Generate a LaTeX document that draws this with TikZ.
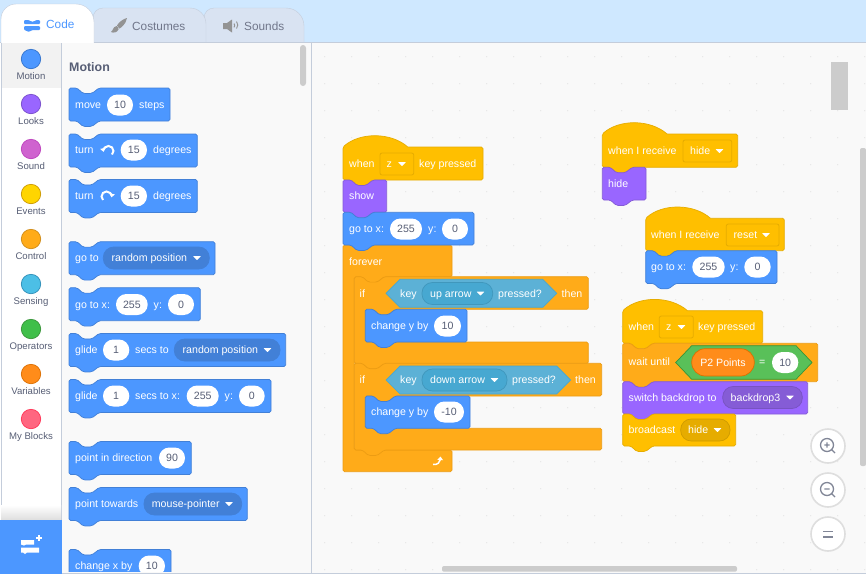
\documentclass[tikz,border=0pt]{standalone}
\usepackage{fontspec}
\setmainfont{Liberation Sans}
\usetikzlibrary{arrows.meta}

\definecolor{motion}{HTML}{4C97FF}   \definecolor{motionl}{HTML}{4280D7}
\definecolor{looks}{HTML}{9966FF}    \definecolor{looksl}{HTML}{855CD6}
\definecolor{events}{HTML}{FFBF00}   \definecolor{eventsl}{HTML}{E6AC00}
\definecolor{control}{HTML}{FFAB19}  \definecolor{controll}{HTML}{EC9C13}
\definecolor{sensing}{HTML}{5CB1D6}  \definecolor{sensingl}{HTML}{47A8D1}
\definecolor{operators}{HTML}{59C059}\definecolor{operatorsl}{HTML}{389438}
\definecolor{variables}{HTML}{FF8C1A}\definecolor{variablesl}{HTML}{DB6E00}
\definecolor{inktext}{HTML}{575E75}
\definecolor{tabfill}{HTML}{D9E3F2}
\definecolor{edgeline}{HTML}{C4CDDB}
\definecolor{panelbg}{HTML}{F9F9F9}

\tikzset{
    motionblock/.style = {fill=motion, draw=motionl, line width=0.7pt},
    looksblock/.style = {fill=looks, draw=looksl, line width=0.7pt},
    eventsblock/.style = {fill=events, draw=eventsl, line width=0.7pt},
    controlblock/.style = {fill=control, draw=controll, line width=0.7pt},
    lbl/.style = {anchor=base west, inner sep=0pt, text=white, font=\fontsize{10.6}{12}\selectfont},
    pilltext/.style = {anchor=base, inner sep=0pt, text=inktext, font=\fontsize{10.6}{12}\selectfont},
    catlabel/.style = {anchor=base, inner sep=0pt, text=inktext, font=\fontsize{9.6}{11}\selectfont},
    tabtext/.style = {anchor=base west, inner sep=0pt, font=\fontsize{11.8}{13}\selectfont},
    zoombutton/.style = {fill=white, draw=black!13, line width=1.6pt},
    zoomglyph/.style = {draw=inktext!75, line width=1.3pt},
}

\newcounter{txtno}
% text whose vertical middle is at y
\newcommand{\lbltext}[3]{\stepcounter{txtno}\node[lbl] (txt\thetxtno) at (#1,#2+3.8) {#3};}
% x1, x2, y middle, text
\newcommand{\whitepill}[4]{\stepcounter{txtno}
    \fill[white, rounded corners=10.4pt] (#1,#3-10.5) rectangle (#2,#3+10.5);
    \node[pilltext] (txt\thetxtno) at ({(#1+#2)/2},#3+3.8) {#4};}
% little triangle of a menu
\newcommand{\caret}[2]{\fill[white, rounded corners=0.5pt] (#1-4,#2-1.8) -- (#1+4,#2-1.8) -- (#1,#2+2.2) -- cycle;}
% x1, x2, y middle, fill, line, text x, caret x, text
\newcommand{\menupill}[8]{\filldraw[fill=#4, draw=#5, line width=0.7pt, rounded corners=10.4pt] (#1,#3-11) rectangle (#2,#3+11);
    \lbltext{#6}{#3}{#8}\caret{#7}{#3}}
% square menu on a hat block
\newcommand{\hatmenu}[6]{\draw[eventsl, line width=0.8pt, rounded corners=2pt] (#1,#3-11) rectangle (#2,#3+11);
    \lbltext{#4}{#3}{#6}\caret{#5}{#3}}
% x, y, w, h, style
\newcommand{\stackblock}[5]{\draw[#5, shift={(#1,#2)}, rounded corners=1.6pt] (0,0) -- (8,0) -- (14,5.4) -- (23,5.4) -- (30,0) -- (#3,0) -- (#3,#4) -- (30,#4) -- (23,#4+5.4) -- (14,#4+5.4) -- (8,#4) -- (0,#4) -- cycle;}
\newcommand{\hatblock}[5]{\draw[#5, shift={(#1,#2)}, rounded corners=1.6pt] (0,0) {[sharp corners] .. controls (16.9,-14.9) and (47.9,-14.9) .. (64.8,0)} -- (#3,0) -- (#3,#4) -- (30,#4) -- (23,#4+5.4) -- (14,#4+5.4) -- (8,#4) -- (0,#4) -- cycle;}
% x, y, w, head h, arm, inner h, foot h
\newcommand{\ifblock}[7]{\draw[controlblock, shift={(#1,#2)}, rounded corners=1.6pt] (0,0) -- (8,0) -- (14,5.4) -- (23,5.4) -- (30,0) -- (#3,0) -- (#3,#4) -- (#5+30,#4) -- (#5+23,#4+5.4) -- (#5+14,#4+5.4) -- (#5+8,#4) -- (#5,#4) -- (#5,#4+#6) -- (#3,#4+#6) -- (#3,#4+#6+#7) -- (30,#4+#6+#7) -- (23,#4+#6+#7+5.4) -- (14,#4+#6+#7+5.4) -- (8,#4+#6+#7) -- (0,#4+#6+#7) -- cycle;}
% x1, x2, y1, y2, slant, fill, line
\newcommand{\hexbool}[7]{\filldraw[fill=#6, draw=#7, line width=0.7pt] (#1,{(#3+#4)/2}) -- (#1+#5,#3) -- (#2-#5,#3) -- (#2,{(#3+#4)/2}) -- (#2-#5,#4) -- (#1+#5,#4) -- cycle;}

\begin{document}
\begin{tikzpicture}[x=1pt, y=-1pt]
    \useasboundingbox (0,0) rectangle (866,574);
    \fill[white] (0,0) rectangle (866,574);
    \fill[blue!10!white!90!cyan] (0,0) rectangle (866,43);

    % tabs
    \filldraw[fill=tabfill, draw=edgeline] (204,43) -- (204,18) arc (180:270:10 and 10) -- (286,8) arc (270:360:18) -- (304,43) -- cycle;
    \filldraw[fill=tabfill, draw=edgeline] (93,43) -- (93,18) arc (180:270:10 and 10) -- (190,8) arc (270:360:16) -- (206,43) -- cycle;
    \filldraw[fill=white, draw=edgeline] (1,43) -- (1,19) arc (180:270:15) -- (76,4) arc (270:360:18) -- (94,43);

    % panels
    \fill[panelbg] (62,43) rectangle (866,574);
    \fill[white] (0,43) rectangle (61,574);
    \fill[black!5] (1,43) rectangle (61,88);
    \draw[edgeline] (0,42.5) -- (1,42.5);
    \draw[edgeline] (94,42.5) -- (866,42.5);
    \draw[edgeline] (1,42.5) -- (1,574);
    \draw[edgeline] (61.5,43) -- (61.5,574);
    \draw[edgeline] (311.5,43) -- (311.5,574);
    \draw[edgeline] (62,572.7) -- (866,572.7);
    \foreach \px in {324.7,351.7,...,866} {
        \foreach \py in {56.7,83.7,...,570} {
            \fill[black!11] (\px,\py) circle (0.6);
        }
    }

    % tab labels
    \fill[motion, rounded corners=1pt] (24,20) -- (29,20) -- (31,21.5) -- (34,21.5) -- (36,20) -- (40,20) -- (40,24) -- (24,24) -- cycle;
    \fill[motion, rounded corners=1pt] (24,26) -- (40,26) -- (40,30) -- (32,30) -- (30,31.5) -- (27,31.5) -- (25.5,30) -- (24,30) -- cycle;
    \node[tabtext, text=motion] (codetab) at (46,28) {Code};
    \fill[gray!85] (127,18) .. controls (126,24) and (121,28) .. (119.5,28.5) -- (117,25.5) .. controls (119,22) and (123,19) .. (127,18) -- cycle;
    \fill[gray!85] (116.5,26) .. controls (118,26.5) and (119,28) .. (118.5,29.5) .. controls (117,33) and (113,33) .. (111,32) .. controls (113,31) and (112.5,27) .. (116.5,26) -- cycle;
    \node[tabtext, text=inktext!85] (costumestab) at (132,30) {Costumes};
    \fill[gray!85] (223,23) -- (227,23) -- (232,19.5) -- (232,32.5) -- (227,29) -- (223,29) -- cycle;
    \draw[gray!85, line width=1pt] (234,23.5) arc (-40:40:3);
    \draw[gray!85, line width=0.9pt] (236.5,21.5) arc (-40:40:5.5);
    \node[tabtext, text=inktext!85] (soundstab) at (244,30) {Sounds};

    % categories
    \foreach \cy/\cname/\cfill/\cline in {59/Motion/4C97FF/3373CC, 104/Looks/9966FF/774DCB, 149/Sound/CF63CF/BD42BD, 194/Events/FFD500/CC9900, 239/Control/FFAB19/CF8B17, 284/Sensing/4CBFE6/2E8EB8, 329/Operators/40BF4A/389438, 374/Variables/FF8C1A/DB6E00, 419/My Blocks/FF6680/FF3355} {
        \definecolor{catfill}{HTML}{\cfill}
        \definecolor{catline}{HTML}{\cline}
        \filldraw[fill=catfill, draw=catline, line width=0.7pt] (31,\cy) circle (9.7);
        \node[catlabel] (cat\cy) at (31,\cy+20.7) {\cname};
    }

    % extension button
    \shade[top color=white, bottom color=black!13] (1,505) rectangle (61,520);
    \fill[motion] (0,520) rectangle (62,574);
    \fill[white] (21,540) -- (34,540) -- (34,544.5) -- (26,544.5) -- (24,545.5) -- (21,544.5) -- cycle;
    \fill[white] (21,547.5) -- (39,547.5) -- (39,552.5) -- (27,552.5) -- (25,554) -- (23,552.5) -- (21,552.5) -- cycle;
    \draw[white, line width=1.7pt] (39,535) -- (39,541) (36,538) -- (42,538);

    % palette
    \node[anchor=base west, inner sep=0pt, text=inktext, font=\fontsize{12.4}{14}\selectfont\bfseries] (motionhead) at (69,71) {Motion};
    \fill[black!20, rounded corners=3pt] (300,45) rectangle (306,86);

    \stackblock{69}{88}{101}{33}{motionblock}
    \lbltext{75}{105}{move} \whitepill{107}{133}{105}{10} \lbltext{139}{105}{steps}

    \stackblock{69}{134}{128.3}{33}{motionblock}
    \lbltext{75}{150}{turn} \whitepill{120.7}{147}{150}{15} \lbltext{153}{150}{degrees}
    \draw[white, line width=2pt, -{Triangle[length=3.5pt, width=5.5pt]}] (112,154.5) arc (45:-190:5) ;

    \stackblock{69}{179.5}{128.3}{33}{motionblock}
    \lbltext{75}{196}{turn} \whitepill{120.7}{147}{196}{15} \lbltext{153}{196}{degrees}
    \draw[white, line width=2pt, -{Triangle[length=3.5pt, width=5.5pt]}] (103,200) arc (135:370:5);

    \stackblock{69}{241.7}{146}{33}{motionblock}
    \lbltext{75}{258}{go to} \menupill{103.3}{209.3}{258}{motionl}{motionl}{111.5}{197}{random position}

    \stackblock{69}{287.7}{131.3}{33}{motionblock}
    \lbltext{75}{304.5}{go to x:} \whitepill{116}{147.7}{304.5}{255} \lbltext{153.5}{304.5}{y:} \whitepill{168}{194}{304.5}{0}

    \stackblock{69}{333.5}{216.7}{33}{motionblock}
    \lbltext{75}{350}{glide} \whitepill{103}{129.3}{350}{1} \lbltext{135}{350}{secs to}
    \menupill{174.3}{280}{350}{motionl}{motionl}{182.5}{267.5}{random position}

    \stackblock{69}{379.5}{202}{33}{motionblock}
    \lbltext{75}{396}{glide} \whitepill{103}{129.3}{396}{1} \lbltext{135}{396}{secs to x:}
    \whitepill{186.7}{218.7}{396}{255} \lbltext{224.5}{396}{y:} \whitepill{239}{264.7}{396}{0}

    \stackblock{69}{441.5}{122.3}{33}{motionblock}
    \lbltext{75}{458}{point in direction} \whitepill{159}{185}{458}{90}

    \stackblock{69}{487.5}{178.3}{33}{motionblock}
    \lbltext{75}{504}{point towards} \menupill{144}{241.7}{504}{motionl}{motionl}{151.7}{229}{mouse-pointer}

    \begin{scope}
        \clip (62,540) rectangle (311,571);
        \stackblock{69}{549.5}{102}{33}{motionblock}
        \lbltext{75}{566}{change x by} \whitepill{138.7}{165}{566}{10}
    \end{scope}

    % script with forever
    \draw[controlblock, shift={(343,245)}, rounded corners=1.6pt] (0,0) -- (8,0) -- (14,5.4) -- (23,5.4) -- (30,0) -- (109,0) -- (109,32) -- (41,32) -- (34,37.4) -- (25,37.4) -- (19,32) -- (11.3,32) -- (11.3,205) -- (109,205) -- (109,226.7) -- (0,226.7) -- cycle;
    \hatblock{343}{147}{140}{33}{eventsblock}
    \lbltext{349}{164}{when} \hatmenu{380}{413.7}{164}{386.5}{402}{z} \lbltext{419}{164}{key pressed}
    \stackblock{343}{180}{43.7}{32.3}{looksblock}
    \lbltext{349}{196}{show}
    \stackblock{343}{212.3}{131}{32.7}{motionblock}
    \lbltext{349}{229}{go to x:} \whitepill{390}{422}{229}{255} \lbltext{428}{229}{y:} \whitepill{442}{468}{229}{0}
    % redraw the top of forever over nothing: its bump is under go to
    \node[lbl] (foreverlbl) at (349,265) {forever};

    \ifblock{354.3}{276.7}{234}{32.6}{11}{32.7}{21.6}
    \lbltext{359.5}{294}{if}
    \hexbool{386}{556.7}{279.3}{307.3}{14}{sensing}{sensingl}
    \lbltext{400}{294}{key}
    \menupill{422}{492.7}{293.5}{sensingl}{sensingl!90!black}{430}{480.5}{up arrow}
    \lbltext{498}{294}{pressed?} \lbltext{561.5}{294}{then}
    \stackblock{365.3}{309.3}{101.7}{32.7}{motionblock}
    \lbltext{371}{326}{change y by} \whitepill{434}{461}{326}{10}

    \ifblock{354.3}{363.3}{247.4}{32.7}{11}{32.3}{21.7}
    \lbltext{359.5}{380}{if}
    \hexbool{386}{570.7}{366}{394}{14}{sensing}{sensingl}
    \lbltext{400}{380}{key}
    \menupill{422}{507}{380}{sensingl}{sensingl!90!black}{430}{494.5}{down arrow}
    \lbltext{512}{380}{pressed?} \lbltext{575}{380}{then}
    \stackblock{365.3}{396}{104.7}{32.3}{motionblock}
    \lbltext{371}{412}{change y by} \whitepill{434}{464}{412}{-10}

    \draw[white, line width=1.5pt, -{Triangle[length=3.5pt, width=5.5pt]}] (433,464.5) .. controls (438,465) and (440,462) .. (440.5,456.5);

    % when I receive hide
    \hatblock{602.3}{134}{135.4}{33.3}{eventsblock}
    \lbltext{608}{151}{when I receive} \hatmenu{683}{731.7}{151}{690}{719.5}{hide}
    \stackblock{602.3}{167.3}{43.7}{32.7}{looksblock}
    \lbltext{608}{184}{hide}

    % when I receive reset
    \hatblock{645.7}{218.3}{138.6}{32.4}{eventsblock}
    \lbltext{651}{235}{when I receive} \hatmenu{726.3}{779}{235}{733.5}{766}{reset}
    \stackblock{645.7}{250.7}{131.3}{32.7}{motionblock}
    \lbltext{651}{267}{go to x:} \whitepill{692.3}{724.7}{267}{255} \lbltext{730}{267}{y:} \whitepill{744.3}{770.7}{267}{0}

    % when z then wait
    \hatblock{622.7}{310.7}{140}{32.6}{eventsblock}
    \lbltext{628.5}{327}{when} \hatmenu{659.3}{693.3}{327}{666}{681.5}{z} \lbltext{698}{327}{key pressed}
    \stackblock{622.7}{343.3}{195}{38.4}{controlblock}
    \lbltext{628.5}{362}{wait until}
    \hexbool{675.7}{812}{345.7}{379.3}{16}{operators}{operatorsl}
    \filldraw[fill=variables, draw=variablesl, line width=0.7pt, rounded corners=13.5pt] (691.7,348.7) rectangle (754.3,376);
    \node[pilltext, text=white] (pointslbl) at (723,366) {P2 Points};
    \lbltext{759}{362}{=}
    \whitepill{772}{798.3}{362.5}{10}
    \stackblock{622.7}{381.7}{185}{32.3}{looksblock}
    \lbltext{628.5}{398}{switch backdrop to}
    \menupill{722.7}{802.3}{397.5}{looksl}{looksl!90!black}{730.5}{790}{backdrop3}
    \stackblock{622.7}{414}{113}{32}{eventsblock}
    \lbltext{628.5}{430}{broadcast}
    \menupill{680.7}{730}{430}{eventsl}{eventsl!90!black}{688}{717.5}{hide}

    % workspace scrollbars
    \fill[black!20] (831,62) rectangle (848,110);
    \fill[black!20, rounded corners=2pt] (860,148) rectangle (866,466);
    \fill[black!20, rounded corners=2pt] (442,566) rectangle (737,571.7);

    % zoom buttons
    \filldraw[zoombutton] (828,446) circle (17);
    \filldraw[zoombutton] (828,490) circle (17);
    \filldraw[zoombutton] (828,534) circle (17);
    \draw[zoomglyph] (827,445) circle (6.5) (831.7,449.7) -- (835,453) (824.3,445) -- (829.7,445) (827,442.3) -- (827,447.7);
    \draw[zoomglyph] (827,489) circle (6.5) (831.7,493.7) -- (835,497) (824.3,489) -- (829.7,489);
    \draw[zoomglyph, line width=1.5pt] (823,531.5) -- (833,531.5) (823,537) -- (833,537);
\end{tikzpicture}
\end{document}
